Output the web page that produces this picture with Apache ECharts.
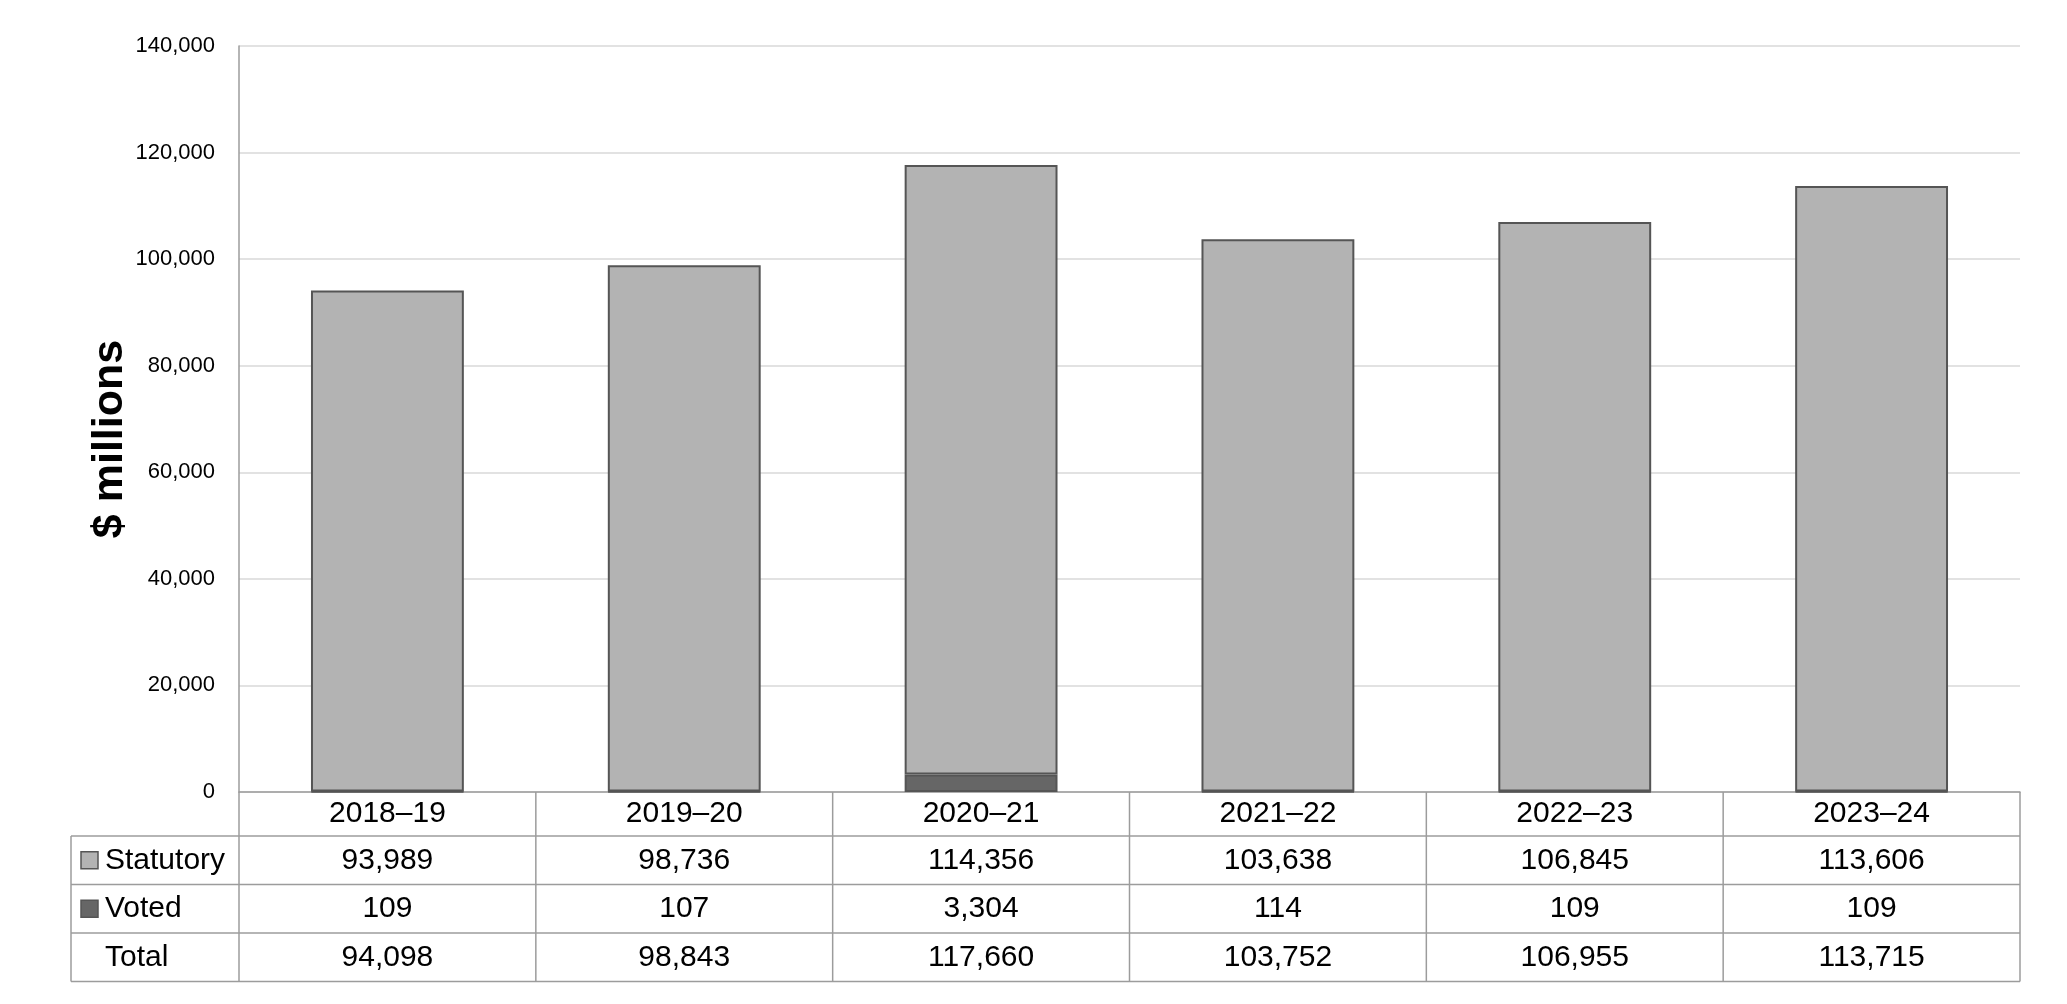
<!DOCTYPE html>
<html style="width:100%;height:100%">
<head>
    <meta charset="UTF-8">
    <title>Statutory and voted expenditures</title>
    <script type="text/javascript" src="https://cdn.jsdelivr.net/npm/echarts@6/dist/echarts.min.js"></script>
</head>
<body style="margin:0;width:100%;height:100%;overflow:hidden;background:#fff">
    <div id="chart" style="width:2067px;height:1004px"></div>

    <script type="text/javascript">
        var years = ['2018–19', '2019–20', '2020–21', '2021–22', '2022–23', '2023–24'];
        var statutory = [93989, 98736, 114356, 103638, 106845, 113606];
        var voted = [109, 107, 3304, 114, 109, 109];
        var totals = [94098, 98843, 117660, 103752, 106955, 113715];
        var yTicks = [0, 20000, 40000, 60000, 80000, 100000, 120000, 140000];

        var font = '"Liberation Sans", Arial, sans-serif';
        var lineColor = '#9c9c9c';
        var fmt = function (v) { return v.toLocaleString('en-US'); };

        var myChart = echarts.init(document.getElementById('chart'), null, { renderer: 'canvas' });

        var option = {
            animation: false,
            backgroundColor: '#fff',
            grid: { left: 239, right: 47, top: 46, bottom: 212 },
            xAxis: {
                type: 'category',
                data: years,
                axisLine: { lineStyle: { color: lineColor, width: 1.5 } },
                axisTick: { show: false },
                axisLabel: {
                    margin: 22,
                    verticalAlign: 'middle',
                    fontSize: 30,
                    color: '#000',
                    fontFamily: font
                }
            },
            yAxis: {
                type: 'value',
                min: yTicks[0],
                max: yTicks[yTicks.length - 1],
                interval: yTicks[1] - yTicks[0],
                axisLine: { show: true, lineStyle: { color: lineColor, width: 1.5 } },
                axisTick: { show: false },
                splitLine: { lineStyle: { color: '#d9d9d9', width: 1.5 } },
                axisLabel: {
                    margin: 24,
                    fontSize: 22,
                    color: '#000',
                    fontFamily: font,
                    formatter: function (v) { return fmt(v); }
                }
            },
            series: [{
                name: 'Voted',
                type: 'bar',
                stack: 'total',
                barWidth: '51.5%',
                data: voted,
                itemStyle: { color: '#666666', borderColor: '#555555', borderWidth: 2 }
            }, {
                name: 'Statutory',
                type: 'bar',
                stack: 'total',
                barWidth: '51.5%',
                data: statutory,
                itemStyle: { color: '#b3b3b3', borderColor: '#555555', borderWidth: 2 }
            }]
        };

        myChart.setOption(option);

        // data table under the axis, placed from the axis scale
        var base = myChart.convertToPixel({ yAxisIndex: 0 }, 0);
        var centers = years.map(function (y, i) { return myChart.convertToPixel({ xAxisIndex: 0 }, i); });
        var band = centers[1] - centers[0];
        var edges = centers.map(function (c) { return c - band / 2; });
        edges.push(centers[centers.length - 1] + band / 2);
        var tableLeft = 71;
        var headerH = 44;
        var rowH = 48.5;
        var rows = [
            { label: 'Statutory', values: statutory, swatch: '#b3b3b3' },
            { label: 'Voted', values: voted, swatch: '#666666' },
            { label: 'Total', values: totals, swatch: null }
        ];
        var right = edges[edges.length - 1];
        var bottom = base + headerH + rows.length * rowH;
        var g = [];

        function hline(y, x1, x2) {
            g.push({ type: 'line', shape: { x1: x1, y1: y, x2: x2, y2: y }, style: { stroke: lineColor, lineWidth: 1.5 }, silent: true });
        }
        function vline(x, y1, y2) {
            g.push({ type: 'line', shape: { x1: x, y1: y1, x2: x, y2: y2 }, style: { stroke: lineColor, lineWidth: 1.5 }, silent: true });
        }
        function text(str, x, y, align, extra) {
            g.push({
                type: 'text', x: x, y: y, silent: true,
                rotation: extra && extra.rotation || 0,
                style: {
                    text: str, x: 0, y: 0, fill: '#000',
                    font: (extra && extra.font) || ('30px ' + font),
                    textAlign: align, textVerticalAlign: 'middle'
                }
            });
        }

        edges.forEach(function (x) { vline(x, base, bottom); });
        vline(tableLeft, base + headerH, bottom);
        for (var r = 0; r <= rows.length; r++) {
            hline(base + headerH + r * rowH, tableLeft, right);
        }

        rows.forEach(function (row, r) {
            var cy = base + headerH + r * rowH + rowH / 2;
            if (row.swatch) {
                g.push({
                    type: 'rect', silent: true,
                    shape: { x: 81, y: cy - 8.5, width: 17, height: 17 },
                    style: { fill: row.swatch, stroke: '#555555', lineWidth: 1.5 }
                });
            }
            text(row.label, 105, cy, 'left');
            row.values.forEach(function (v, i) {
                text(fmt(v), centers[i], cy, 'center');
            });
        });

        text('$ millions', 110, 439, 'center', { rotation: Math.PI / 2, font: 'bold 43px ' + font });

        myChart.setOption({ graphic: g });
    </script>
</body>
</html>
